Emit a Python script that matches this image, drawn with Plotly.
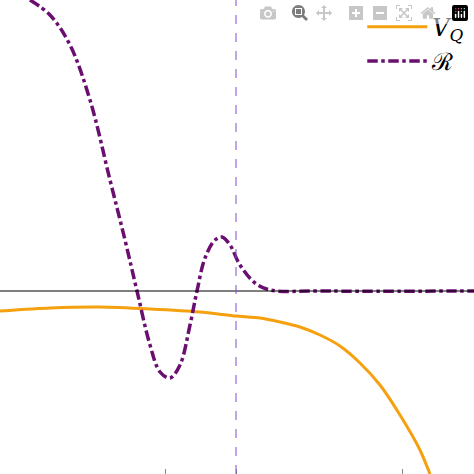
import plotly.graph_objects as go

r_x = [0.30,0.50,0.70,0.90,1.10,1.25,1.37,1.50,1.60,1.70,1.80,1.90,1.97,2.05,2.15,2.22,2.30,2.40,2.55,2.70,3.20,4.74]
r_y = [2.91,2.76,2.46,1.91,1.11,0.51,0.0,-0.54,-0.81,-0.87,-0.74,-0.34,0.0,0.33,0.51,0.54,0.46,0.26,0.08,0.01,0.0,0.0]
v_x = [0.0,0.5,1.0,1.5,2.0,2.36,2.60,2.80,3.00,3.20,3.40,3.60,3.80,4.00,4.20,4.30]
v_y = [-0.20,-0.17,-0.16,-0.18,-0.21,-0.25,-0.27,-0.31,-0.36,-0.44,-0.55,-0.72,-0.94,-1.24,-1.59,-1.83]
tick_x = [1.65, 2.36, 4.02]
vline_x = 2.36

fig = go.Figure()
fig.add_trace(go.Scatter(x=v_x, y=v_y, mode="lines", line=dict(color="#f5a00f", width=3, shape="spline", smoothing=0.6),
                         name="<i>V</i><sub><i>Q</i></sub>"))
fig.add_trace(go.Scatter(x=r_x, y=r_y, mode="lines", line=dict(color="#6a0f70", width=3.5, dash="dashdot", shape="spline"),
                         name="ℛ"))
fig.add_hline(y=0, line=dict(color="black", width=1))
fig.add_vline(x=vline_x, line=dict(color="#7b4fd0", width=1, dash="dash"))
fig.update_layout(width=474, height=474, margin=dict(l=0, r=0, t=0, b=0),
                  plot_bgcolor="white", paper_bgcolor="white",
                  legend=dict(x=0.99, y=0.99, xanchor="right", yanchor="top", bgcolor="rgba(0,0,0,0)",
                              tracegroupgap=14, itemwidth=60,
                              font=dict(family="DejaVu Serif", size=24, color="black")),
                  xaxis=dict(range=[0, 4.74], showgrid=False, zeroline=False, showticklabels=False,
                             tickvals=tick_x, ticks="inside", ticklen=5, tickcolor="#888"),
                  yaxis=dict(range=[-1.83, 2.91], showgrid=False, zeroline=False, showticklabels=False))
fig.write_html("out.html", post_script="document.body.style.margin='0';")
